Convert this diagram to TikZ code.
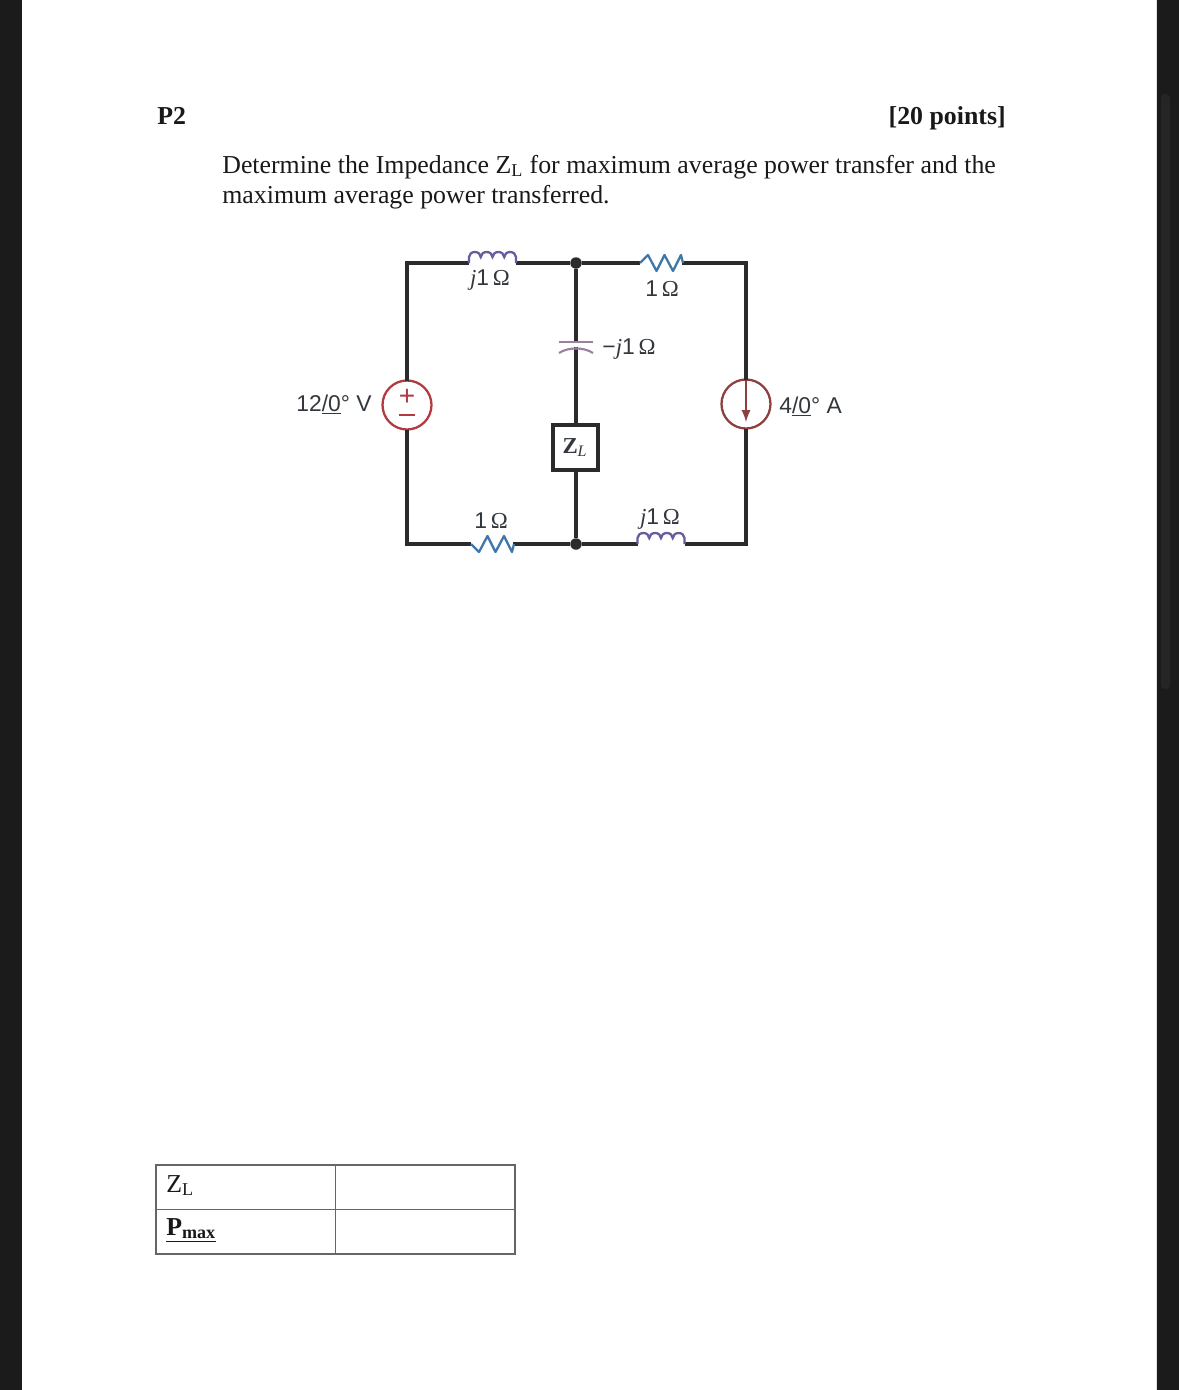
\documentclass[tikz,border=0pt]{standalone}
\usepackage{fontspec}
\setmainfont{Liberation Serif}
\newfontfamily\rotsans{Liberation Sans}
\usetikzlibrary{arrows}
\definecolor{fondo}{HTML}{1B1B1C}
\definecolor{barra}{HTML}{252526}
\definecolor{cable}{HTML}{2B2B2B}
\definecolor{rojoV}{HTML}{B23A40}
\definecolor{rojoI}{HTML}{8E3F40}
\definecolor{azulR}{HTML}{3F78A8}
\definecolor{moraL}{HTML}{6A5A9E}
\definecolor{moraC}{HTML}{9A7FA0}
\definecolor{rotulo}{HTML}{33383E}
\begin{document}
\begin{tikzpicture}[x=0.02cm,y=-0.02cm]
% estilos de linea y texto
\tikzstyle{alambre} = [line width=1.9pt,color=cable];
\tikzstyle{nudo} = [circle,fill=cable,inner sep=0pt,outer sep=0pt,minimum size=0.23cm];
\tikzstyle{fuenv} = [circle,draw=rojoV,line width=1.3pt,fill=white,inner sep=0pt,outer sep=0pt,minimum size=0.98cm];
\tikzstyle{fueni} = [circle,draw=rojoI,line width=1.3pt,fill=white,inner sep=0pt,outer sep=0pt,minimum size=0.98cm];
\tikzstyle{caja} = [draw=cable,line width=1.9pt,fill=white,inner sep=0pt,outer sep=0pt,minimum size=0.9cm];
\tikzstyle{rot} = [color=rotulo,anchor=base,inner sep=0pt,font=\rotsans\fontsize{13}{14}\selectfont];
\tikzstyle{texto} = [anchor=base west,inner sep=0pt,text=black!90,font=\fontsize{14.7}{18}\selectfont];
\tikzstyle{tabla} = [line width=0.7pt,color=black!60];
% definicion resistencia
% #1: punto inicial
% #2=1: empieza hacia arriba, #2=-1: empieza hacia abajo
\newcommand{\resis}[2]{
\draw [line width=1.3pt,color=azulR,line join=round] #1 -- ++(8,-8*#2) -- ++(8.5,16*#2)
-- ++(8,-16*#2) -- ++(8.5,16*#2) -- ++(8,-16*#2) -- ++(2,8*#2);
 }
% definicion bobina
% #1: punto inicial
\newcommand{\bobin}[1]{
\draw [line width=1.3pt,color=moraL] #1 -- ++(0,-6)
arc[start angle=180,end angle=0,x radius=0.1175cm,y radius=0.1cm]
arc[start angle=180,end angle=0,x radius=0.1175cm,y radius=0.1cm]
arc[start angle=180,end angle=0,x radius=0.1175cm,y radius=0.1cm]
arc[start angle=180,end angle=0,x radius=0.1175cm,y radius=0.1cm]
-- ++(0,6);
 }
\newcommand{\fase}[1]{\underline{\smash{/}#1}\textdegree}
\newcommand{\ohm}{\,{\rmfamily\symbol{"03A9}}}
\newcommand{\jota}{{\rmfamily\itshape j}}
% pagina
\fill [fondo] (0,0) rectangle (1179,1390);
\fill [white] (22,0) rectangle (1156,1390);
\fill [black!12] (1156,0) rectangle (1157,1390);
\fill [barra,rounded corners=0.08cm] (1161,94) rectangle (1170,689);
\useasboundingbox (0,0) rectangle (1179,1390);
% textos del enunciado
\node [texto,font=\bfseries\fontsize{14.7}{18}\selectfont] (tpreg) at (157,124) {P2};
\node [texto,anchor=base east,font=\bfseries\fontsize{14.7}{18}\selectfont] (tpunt) at (1006,124) {[20 points]};
\node [texto] (tlin1) at (222,173) {Determine the Impedance Z\textsubscript{L} for maximum average power transfer and the};
\node [texto] (tlin2) at (222,203) {maximum average power transferred.};
% puntos del circuito
\coordinate (esi) at (407,263);
\coordinate (esd) at (746,263);
\coordinate (eii) at (407,544);
\coordinate (eid) at (746,544);
\node [nudo] (nsup) at (576,263) {};
\node [nudo] (ninf) at (576,544) {};
\coordinate (l1a) at (469,263);
\coordinate (l1b) at (516,263);
\coordinate (r1a) at (640,263);
\coordinate (r1b) at (682,263);
\coordinate (r2a) at (471,544);
\coordinate (r2b) at (513,544);
\coordinate (l2a) at (637.5,544);
\coordinate (l2b) at (684.5,544);
\coordinate (c1a) at (576,342);
\coordinate (c1b) at (576,347);
% dibujar elementos
\node [fuenv] (vfue) at (407,405) {};
\node [fueni] (ifue) at (746,404) {};
\node [caja] (zcar) at (575.5,447.5) {};
\draw [alambre] (vfue.north) -- (esi) -- (l1a);
\draw [alambre] (l1b) -- (nsup);
\draw [alambre] (nsup) -- (r1a);
\draw [alambre] (r1b) -- (esd) -- (ifue.north);
\draw [alambre] (vfue.south) -- (eii) -- (r2a);
\draw [alambre] (r2b) -- (ninf);
\draw [alambre] (ninf) -- (l2a);
\draw [alambre] (l2b) -- (eid) -- (ifue.south);
\draw [alambre] (nsup) -- (c1a);
\draw [alambre] (c1b) -- (zcar.north -| c1b);
\draw [alambre] (zcar.south -| ninf) -- (ninf);
\bobin{(l1a)}
\bobin{(l2a)}
\resis{(r1a)}{1}
\resis{(r2a)}{-1}
% dibujar capacitor
\draw [line width=1.2pt,color=moraC] (559,342) -- (593,342);
\draw [line width=1.2pt,color=moraC] (559,353) .. controls (568,347) and (584,347) .. (593,353);
% dibujar flecha y signos
\draw [line width=1.3pt,color=rojoI,-latex] (ifue.north) -- (746,422);
\node [rot,color=rojoV,anchor=center,font=\rotsans\fontsize{16}{16}\selectfont] (vmas) at (407,397) {+};
\draw [line width=0.8pt,color=rojoV] (399,415) -- (415,415);
% dibujar rotulos
\node [rot] (tl1) at (490,285) {\jota1\ohm};
\node [rot] (tr1) at (662,296) {1\ohm};
\node [rot] (tc1) at (629,354) {\symbol{"2212}\jota1\ohm};
\node [rot,anchor=base east] (tvf) at (372,411) {12\fase{0} V};
\node [rot,anchor=base west] (tif) at (779,413) {4\fase{0} A};
\node [rot] (tr2) at (491,528) {1\ohm};
\node [rot] (tl2) at (660,524) {\jota1\ohm};
\node [rot,font=\rmfamily\fontsize{13}{14}\selectfont] (tzl) at (575,453) {\textbf{Z}\textsubscript{\textit{L}}};
% dibujar tabla
\draw [tabla] (156,1165) rectangle (515,1254);
\draw [tabla] (156,1209.5) -- (515,1209.5);
\draw [tabla] (335.5,1165) -- (335.5,1254);
\node [texto] (tzt) at (166,1192) {Z\textsubscript{L}};
\node [texto] (tpm) at (166,1235) {\textbf{\underline{P\textsubscript{max}}}};
\end{tikzpicture}
\end{document}
